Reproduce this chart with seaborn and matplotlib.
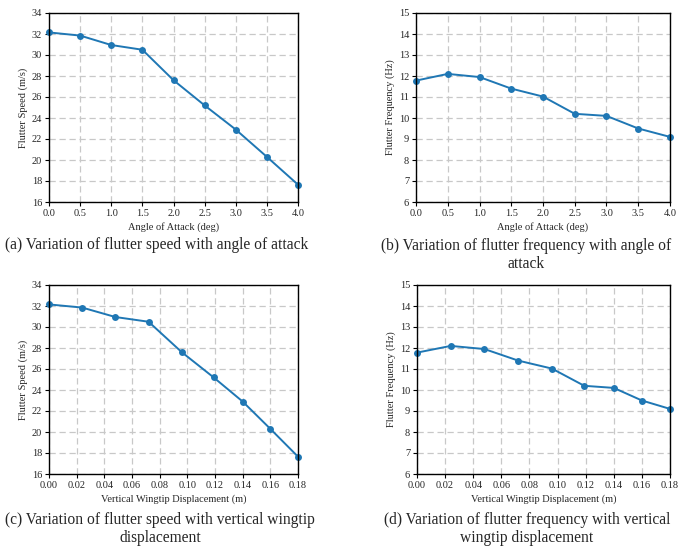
import matplotlib
matplotlib.use('Agg')
import matplotlib.pyplot as plt
import seaborn as sns
import pandas as pd

# data
angle = [0.0, 0.5, 1.0, 1.5, 2.0, 2.5, 3.0, 3.5, 4.0]
displacement = [0.0, 0.024, 0.048, 0.072, 0.096, 0.119, 0.140, 0.160, 0.180]
flutter_speed = [32.15, 31.85, 30.95, 30.5, 27.6, 25.2, 22.9, 20.3, 17.65]
flutter_freq = [11.78, 12.1, 11.95, 11.4, 11.02, 10.2, 10.1, 9.5, 9.1]

df = pd.DataFrame({'angle': angle, 'disp': displacement,
                   'speed': flutter_speed, 'freq': flutter_freq})

sns.set_style('ticks')
plt.rcParams['font.family'] = ['Liberation Serif', 'DejaVu Serif']

line_color = '#1f77b4'
fig = plt.figure(figsize=(6.85, 5.46), dpi=100)
W, H = 685, 546

def make_axes(left, top, right, bottom):
    return fig.add_axes([left / W, 1 - bottom / H, (right - left) / W, (bottom - top) / H])

def draw(ax, x, y, xlabel, ylabel, xlim, xticks, xfmt, ylim, yticks):
    sns.lineplot(data=df, x=x, y=y, ax=ax, color=line_color, marker='o',
                 markersize=5, markeredgewidth=0, linewidth=1.4, clip_on=False)
    ax.set_xlim(xlim)
    ax.set_ylim(ylim)
    ax.set_xticks(xticks)
    ax.set_xticklabels([xfmt.format(t) for t in xticks])
    ax.set_yticks(yticks)
    ax.grid(True, linestyle=(0, (5, 3)), color='#c8c8c8', linewidth=0.9)
    ax.set_axisbelow(True)
    ax.tick_params(labelsize=7.5, length=3, width=0.8, color='black', pad=2)
    ax.set_xlabel(xlabel, fontsize=7.5, labelpad=3)
    ax.set_ylabel(ylabel, fontsize=7.5, labelpad=3)
    for s in ax.spines.values():
        s.set_visible(True)
        s.set_color('black')
        s.set_linewidth(1.0)

angle_ticks = [0.0, 0.5, 1.0, 1.5, 2.0, 2.5, 3.0, 3.5, 4.0]
disp_ticks = [0.0, 0.02, 0.04, 0.06, 0.08, 0.10, 0.12, 0.14, 0.16, 0.18]
speed_ticks = list(range(16, 35, 2))
freq_ticks = list(range(6, 16))

ax1 = make_axes(49, 13, 298, 202)
draw(ax1, 'angle', 'speed', 'Angle of Attack (deg)', 'Flutter Speed (m/s)',
     (0, 4), angle_ticks, '{:.1f}', (16, 34), speed_ticks)
ax2 = make_axes(416, 13, 670, 202)
draw(ax2, 'angle', 'freq', 'Angle of Attack (deg)', 'Flutter Frequency (Hz)',
     (0, 4), angle_ticks, '{:.1f}', (6, 15), freq_ticks)
ax3 = make_axes(49, 285, 298, 474)
draw(ax3, 'disp', 'speed', 'Vertical Wingtip Displacement (m)', 'Flutter Speed (m/s)',
     (0, 0.18), disp_ticks, '{:.2f}', (16, 34), speed_ticks)
ax4 = make_axes(417, 285, 670, 474)
draw(ax4, 'disp', 'freq', 'Vertical Wingtip Displacement (m)', 'Flutter Frequency (Hz)',
     (0, 0.18), disp_ticks, '{:.2f}', (6, 15), freq_ticks)

cap = dict(fontsize=11.2, va='center', multialignment='center')
fig.text(5 / W, 1 - 245 / H, '(a) Variation of flutter speed with angle of attack', ha='left', **cap)
fig.text(526 / W, 1 - 255 / H, '(b) Variation of flutter frequency with angle of\nattack', ha='center', **cap)
fig.text(160 / W, 1 - 529 / H, '(c) Variation of flutter speed with vertical wingtip\ndisplacement', ha='center', **cap)
fig.text(527 / W, 1 - 529 / H, '(d) Variation of flutter frequency with vertical\nwingtip displacement', ha='center', **cap)

fig.savefig('out.png', dpi=100)
